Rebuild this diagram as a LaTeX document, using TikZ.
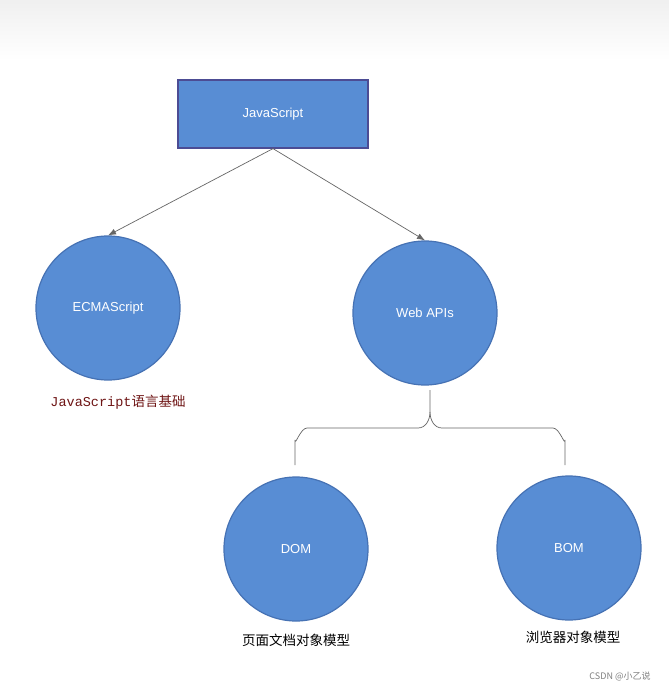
\documentclass[tikz,border=0pt]{standalone}
\usepackage{fontspec}
\setmainfont{Liberation Sans}
\newfontfamily\cjk{Noto Sans CJK SC}
\newfontfamily\mono{Liberation Mono}
\begin{document}
\begin{tikzpicture}[x=1pt,y=-1pt,
  box/.style={draw=blue!40!black!70, line width=1.2pt, fill={rgb,255:red,88;green,141;blue,212}, text=white, font=\fontsize{13}{15}\selectfont},
  ball/.style={circle, draw={rgb,255:red,70;green,114;blue,180}, line width=1.2pt, fill={rgb,255:red,88;green,141;blue,212}, minimum size=144pt, inner sep=0pt, text=white, font=\fontsize{13}{15}\selectfont},
  lab/.style={font=\cjk\fontsize{13.5}{16}\selectfont},
  conn/.style={draw=gray!80!black, line width=0.7pt},
  arr/.style={conn,-{Latex[length=8pt,width=6pt]}}]
\usetikzlibrary{arrows.meta}
\useasboundingbox (0,0) rectangle (669,691);
\fill[white] (0,0) rectangle (669,691);
\shade[top color=gray!12, bottom color=white] (0,0) rectangle (669,60);
\node[box, minimum width=190pt, minimum height=68pt] (js) at (273,114) {JavaScript};
\node[ball] (ecma) at (108,308) {ECMAScript};
\node[ball] (web) at (425,313) {Web APIs};
\node[ball] (dom) at (296,549) {DOM};
\node[ball] (bom) at (569,548) {BOM};
\draw[arr] (js.south) -- (ecma.north);
\draw[arr] (js.south) -- (web.north);
\coordinate (b1) at (430,390);
\draw[conn] (b1) -- (430,412) to[out=270,in=0] (418,428) -- (307,428) to[out=180,in=270] (295,440) -- (295,465);
\draw[conn] (430,412) to[out=270,in=180] (442,428) -- (553,428) to[out=0,in=270] (565,440) -- (565,465);
\node[lab, text={rgb,255:red,110;green,20;blue,20}] (l1) at (118,402) {{\mono JavaScript}语言基础};
\node[lab] (l2) at (296,640) {页面文档对象模型};
\node[lab] (l3) at (573,637) {浏览器对象模型};
\node[font=\cjk\fontsize{9}{10}\selectfont, text=gray] (wm) at (620,676) {CSDN @小乙说};
\end{tikzpicture}
\end{document}
